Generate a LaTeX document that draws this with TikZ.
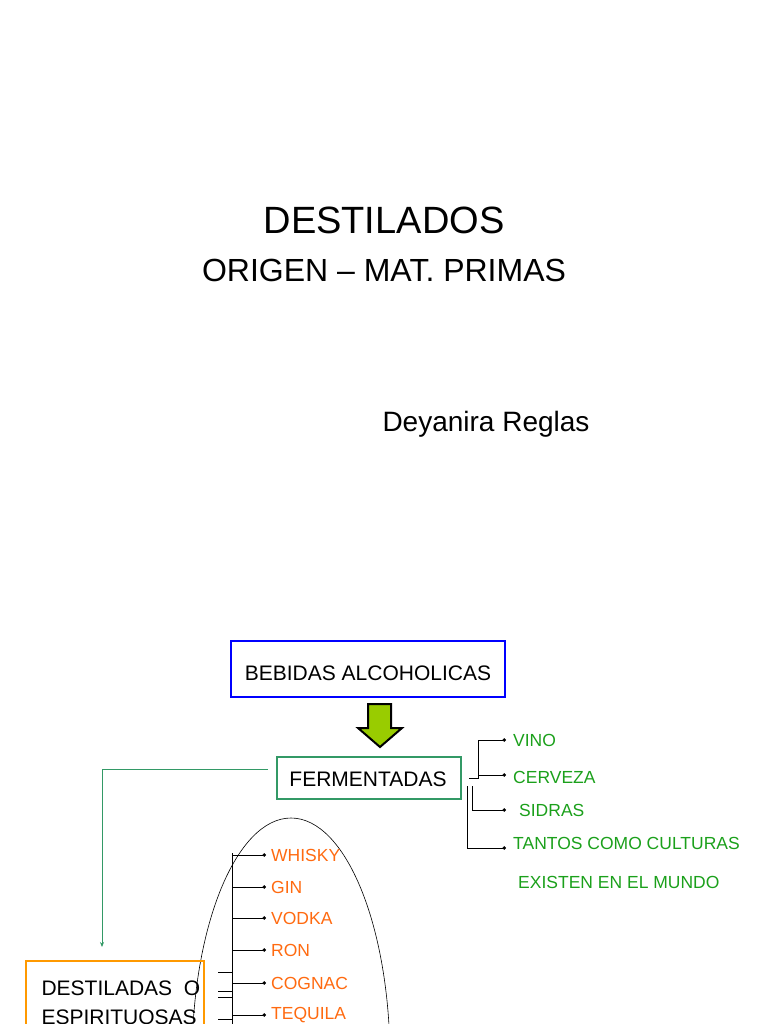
\documentclass[tikz,border=0pt]{standalone}
\usepackage{fontspec}
\setmainfont{Liberation Sans}
\usetikzlibrary{arrows.meta}
\definecolor{fgreen}{HTML}{1BA01B}
\definecolor{bgreen}{HTML}{339966}
\definecolor{orng}{HTML}{FF6A10}
\definecolor{obox}{HTML}{FF9900}
\definecolor{lime}{HTML}{99CC00}
\begin{document}
\begin{tikzpicture}[x=1pt,y=-1pt,
  dot/.style={-{Circle[length=3.5pt]}, line width=0.8pt},
  gitem/.style={anchor=west, text=fgreen, font=\fontsize{17.5}{19}\selectfont, inner sep=0},
  oitem/.style={anchor=west, text=orng, font=\fontsize{17.5}{19}\selectfont, inner sep=0},
  boxtxt/.style={font=\fontsize{21}{24}\selectfont}]
\useasboundingbox (0,0) rectangle (768,1024);
\node (t1) at (384,220) {\fontsize{38}{42}\selectfont DESTILADOS};
\node (t2) at (384,270) {\fontsize{32}{36}\selectfont ORIGEN – MAT. PRIMAS};
\node (t3) at (486,424) {\fontsize{28}{32}\selectfont Deyanira Reglas};
\draw[blue, line width=2.5pt] (231,641) rectangle (505,697);
\node[boxtxt] (bb) at (368,673) {BEBIDAS ALCOHOLICAS};
\draw[fill=lime, line width=2pt] (368,704) -- (391,704) -- (391,728) -- (402,728) -- (380,747) -- (358,728) -- (368,728) -- cycle;
\draw[bgreen, line width=2.5pt] (277,757) rectangle (461,799);
\node[boxtxt] (fe) at (368,779) {FERMENTADAS};
\draw[bgreen, line width=1pt, -{Stealth[length=5pt,width=4pt]}] (268,769) -- (102,769) -- (102,947);
% fermentadas tree
\draw[dot] (469,778) -- (478,778) -- (478,740) -- (506,740);
\draw[dot] (478,775) -- (506,775);
\draw[dot] (472,786) -- (472,810) -- (506,810);
\draw[dot] (467,786) -- (467,848) -- (506,848);
\node[gitem] (vino) at (513,740) {VINO};
\node[gitem] (cer) at (513,777) {CERVEZA};
\node[gitem] (sid) at (519,810) {SIDRAS};
\node[gitem] (tan) at (513,843) {TANTOS COMO CULTURAS};
\node[gitem] (exi) at (518,882) {EXISTEN EN EL MUNDO};
% ellipse
\draw[line width=0.6pt] (291,1060) ellipse [x radius=99, y radius=242];
\draw[line width=0.8pt] (232,853) -- (232,1024);
\foreach \y/\t in {855/WHISKY,887/GIN,918/VODKA,950/RON,983/COGNAC,1015/TEQUILA}{
  \draw[dot] (232,\y) -- (266,\y);
  \node[oitem] at (271,\y) {\t};
}
\foreach \y in {972,991,997,1019}{\draw[line width=0.8pt] (218,\y) -- (232,\y);}
\draw[obox, line width=2.5pt] (26,961) rectangle (204,1040);
\node[boxtxt, anchor=west] (d1) at (38,988) {DESTILADAS\ \ O};
\node[boxtxt, anchor=west] (d2) at (38,1017) {ESPIRITUOSAS};
\end{tikzpicture}
\end{document}
